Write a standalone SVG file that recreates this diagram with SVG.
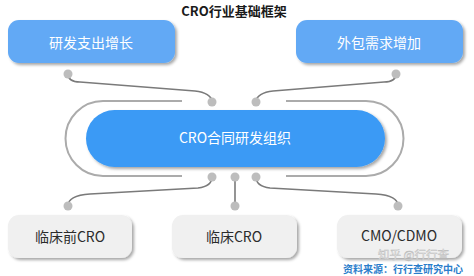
<svg xmlns="http://www.w3.org/2000/svg" width="474" height="276" viewBox="0 0 474 276">
<defs>
<filter id="sh" x="-10%" y="-20%" width="125%" height="150%">
<feDropShadow dx="2" dy="2" stdDeviation="1.8" flood-color="#000" flood-opacity="0.35"/>
</filter>
</defs>
<style>
text{font-family:"Noto Sans CJK SC","Noto Sans",sans-serif;text-anchor:middle}
.title{font-size:13px;font-weight:bold;fill:#1a1a1a}
.top{fill:#62a9f5;filter:url(#sh)}
.mid{fill:#3b9af5;filter:url(#sh)}
.bot{fill:#f0f0f0;filter:url(#sh)}
.wt{font-size:14px;fill:#fff}
.dt{font-size:14px;fill:#2b2b2b}
.conn{fill:none;stroke:#7a7a7a;stroke-width:1.6}
.ring{fill:none;stroke:#ababab;stroke-width:2}
.dot{fill:#bdbdbd}
.src{font-size:10px;font-weight:bold;fill:#2a7dcb;text-anchor:start}
.wm{font-size:11.5px;fill:#ececec;stroke:#b8b8b8;stroke-width:0.4;text-anchor:start}
</style>
<text class="title" x="234" y="16">CRO行业基础框架</text>
<g id="connectors">
<path class="ring" d="M182,101 L103,101 A37.5,37.5 0 0 0 103,176 L182,176"/>
<path class="ring" d="M286,101 L366,101 A37.5,37.5 0 0 1 366,176 L286,176"/>
<path class="conn" d="M68,74 C68,80 72,82 80,82 L195,91 C205,92 212,96 212,102"/>
<path class="conn" d="M396,74 C396,80 392,82 384,82 L273,91 C263,92 256,96 256,102"/>
<path class="conn" d="M212,177 C212,184 206,187 198,188 L90,194 C75,195 68,199 68,206"/>
<path class="conn" d="M235,177 L235,206"/>
<path class="conn" d="M256,177 C256,184 262,187 270,188 L376,194 C391,195 398,199 398,206"/>
<circle class="dot" cx="68" cy="74" r="4.5"/>
<circle class="dot" cx="396" cy="74" r="4.5"/>
<circle class="dot" cx="212" cy="102" r="4.5"/>
<circle class="dot" cx="256" cy="102" r="4.5"/>
<circle class="dot" cx="212" cy="177" r="4.5"/>
<circle class="dot" cx="235" cy="177" r="4.5"/>
<circle class="dot" cx="256" cy="177" r="4.5"/>
<circle class="dot" cx="68" cy="206" r="4.5"/>
<circle class="dot" cx="235" cy="206" r="4.5"/>
<circle class="dot" cx="398" cy="206" r="4.5"/>
</g>
<g id="rd">
<rect class="top" x="8" y="20" width="167" height="43" rx="11"/>
<text class="wt" x="91" y="48">研发支出增长</text>
</g>
<g id="outsourcing">
<rect class="top" x="296" y="20" width="167" height="43" rx="11"/>
<text class="wt" x="379" y="48">外包需求增加</text>
</g>
<g id="cro">
<rect class="mid" x="86" y="110" width="299" height="57" rx="28.5"/>
<text class="wt" x="235" y="143">CRO合同研发组织</text>
</g>
<g id="preclinical">
<rect class="bot" x="8" y="215" width="124" height="43" rx="11"/>
<text class="dt" x="70" y="242">临床前CRO</text>
</g>
<g id="clinical">
<rect class="bot" x="172" y="215" width="125" height="43" rx="11"/>
<text class="dt" x="234" y="242">临床CRO</text>
</g>
<g id="cmo">
<rect class="bot" x="337" y="215" width="125" height="43" rx="11"/>
<text class="dt" x="399" y="241">CMO/CDMO</text>
</g>
<text class="wm" x="378" y="259">知乎 @行行查</text>
<text class="src" x="343" y="273">资料来源：行行查研究中心</text>
</svg>
